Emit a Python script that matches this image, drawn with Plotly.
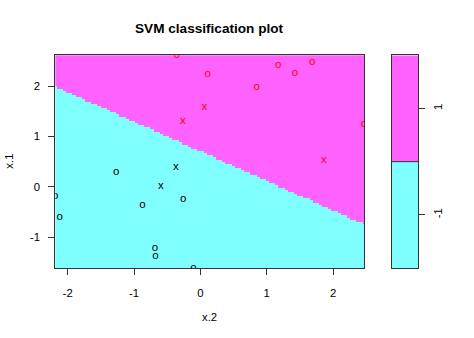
import numpy as np
import plotly.graph_objects as go

# ---- data ----
x2_class1 = [-0.355, 0.11, 0.06, -0.265, 1.173, 1.424, 1.684, 0.848, 2.466, 1.86]
x1_class1 = [2.61, 2.245, 1.585, 1.307, 2.42, 2.26, 2.475, 1.98, 1.255, 0.54]
sv_class1 = [False, False, True, True, False, False, False, False, False, True]

x2_classm1 = [-1.268, -0.37, -0.595, -2.186, -2.12, -0.872, -0.26, -0.686, -0.677, -0.105]
x1_classm1 = [0.285, 0.396, 0.014, -0.184, -0.606, -0.362, -0.25, -1.214, -1.372, -1.608]
sv_classm1 = [False, True, True, False, False, False, False, False, False, False]

# fitted (linear) decision function: f = w1*x1 + w2*x2 + b
w1, w2, b = 1.0, 0.587, -0.707
grid_n = 100

class_levels = [-1, 1]
class_labels = ["-1", "1"]
x_ticks = [-2, -1, 0, 1, 2]
x_tick_labels = ["-2", "-1", "0", "1", "2"]
y_ticks = [-1, 0, 1, 2]
y_tick_labels = ["-1", "0", "1", "2"]

CYAN = "#80FFFF"
MAGENTA = "#FF62FF"
FONT = "Liberation Sans, Arial, Helvetica, sans-serif"
W, H = 474, 338

all_x2 = x2_class1 + x2_classm1
all_x1 = x1_class1 + x1_classm1
xmin, xmax = min(all_x2), max(all_x2)
ymin, ymax = min(all_x1), max(all_x1)

gx = np.linspace(xmin, xmax, grid_n)
gy = np.linspace(ymin, ymax, grid_n)
GX, GY = np.meshgrid(gx, gy)
Z = np.where(w1 * GY + w2 * GX + b > 0, 1, -1)

cscale = [[0, CYAN], [0.5, CYAN], [0.5, MAGENTA], [1, MAGENTA]]

fig = go.Figure()
fig.add_trace(go.Heatmap(x=gx, y=gy, z=Z, colorscale=cscale, zmin=-1, zmax=1,
                         showscale=False, hoverinfo="skip", xaxis="x", yaxis="y"))


def add_points(xs, ys, sv, color):
    fig.add_trace(go.Scatter(
        x=xs, y=ys, mode="text",
        text=["x" if s else "o" for s in sv],
        textposition="middle center",
        textfont=dict(family=FONT, size=11.5, color=color),
        showlegend=False, xaxis="x", yaxis="y"))


add_points(x2_class1, x1_class1, sv_class1, "#FF0000")
add_points(x2_classm1, x1_classm1, sv_classm1, "#000000")

# legend / key bar
fig.add_trace(go.Heatmap(x=[0], y=class_levels, z=[[class_levels[0]], [class_levels[1]]],
                         colorscale=cscale, zmin=-1, zmax=1, showscale=False,
                         hoverinfo="skip", xaxis="x2", yaxis="y2"))

px_l, px_r, px_t, px_b = 55.3, 364.0, 55.3, 268.0
cb_l, cb_r = 391.7, 418.3
ydom = [(H - px_b) / H, (H - px_t) / H]

axis_common = dict(showgrid=False, zeroline=False, showline=True, mirror=True,
                   linecolor="#333333", linewidth=1, ticks="outside", ticklen=6,
                   tickcolor="#333333", tickwidth=1,
                   tickfont=dict(family=FONT, size=11.3, color="#000000"))

fig.update_layout(
    width=W, height=H, margin=dict(l=0, r=0, t=0, b=0),
    paper_bgcolor="white", plot_bgcolor="white", showlegend=False,
    xaxis=dict(domain=[px_l / W, px_r / W], range=[xmin, xmax], tickvals=x_ticks,
               ticktext=x_tick_labels, anchor="y", ticklabelstandoff=8, **axis_common),
    yaxis=dict(domain=ydom, range=[ymin, ymax], tickvals=y_ticks, ticktext=y_tick_labels,
               anchor="x", ticklabelstandoff=6, **axis_common),
    xaxis2=dict(domain=[cb_l / W, cb_r / W], range=[-0.5, 0.5], anchor="y2",
                showgrid=False, zeroline=False, showline=True, mirror=True,
                linecolor="#333333", linewidth=1, ticks="", showticklabels=False),
    yaxis2=dict(domain=ydom, range=[-2, 2], anchor="x2", side="right",
                tickvals=class_levels, ticktext=class_labels, tickangle=-90,
                ticklabelstandoff=3, **axis_common),
    shapes=[dict(type="line", xref="x2 domain", yref="y2", x0=0, x1=1, y0=0, y1=0,
                 line=dict(color="#333333", width=1))],
    annotations=[
        dict(text="<b>SVM classification plot</b>", xref="paper", yref="paper",
             x=(px_l + px_r) / 2 / W, y=1 - 29 / H, xanchor="center", yanchor="middle",
             showarrow=False, font=dict(family=FONT, size=13.6, color="#000000")),
        dict(text="x.2", xref="paper", yref="paper",
             x=(px_l + px_r) / 2 / W, y=1 - 317 / H, xanchor="center", yanchor="middle",
             showarrow=False, font=dict(family=FONT, size=11.3, color="#000000")),
        dict(text="x.1", xref="paper", yref="paper", textangle=-90,
             x=9 / W, y=1 - (px_t + px_b) / 2 / H, xanchor="center", yanchor="middle",
             showarrow=False, font=dict(family=FONT, size=11.3, color="#000000")),
    ],
)

fig.write_html("out.html")
